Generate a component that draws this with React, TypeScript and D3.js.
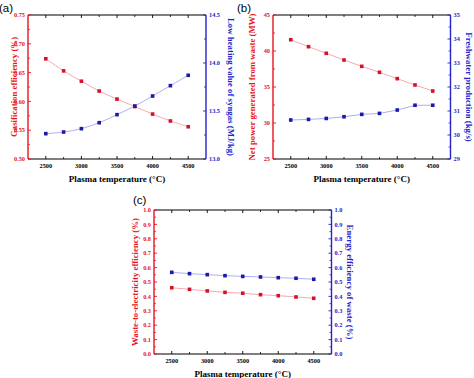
import React from "react";
import * as d3 from "d3";

const temps = [2500, 2750, 3000, 3250, 3500, 3750, 4000, 4250, 4500];
const xTicks = [2500, 3000, 3500, 4000, 4500];

const gasEff = [0.674, 0.653, 0.635, 0.618, 0.604, 0.591, 0.578, 0.566, 0.556];
const lhv = [13.264, 13.281, 13.316, 13.378, 13.462, 13.552, 13.656, 13.764, 13.872];

const netPower = [41.57, 40.6, 39.68, 38.75, 37.87, 37.04, 36.16, 35.28, 34.44];
const freshwater = [30.625, 30.65, 30.69, 30.76, 30.86, 30.9, 31.04, 31.24, 31.24];

const wteEff = [0.46, 0.449, 0.438, 0.428, 0.422, 0.412, 0.405, 0.396, 0.387];
const energyEff = [0.567, 0.558, 0.551, 0.544, 0.539, 0.535, 0.53, 0.526, 0.519];

const RED = "#e8141f";
const BLUE = "#2323c8";
const RED_M = "#d8102c";
const BLUE_M = "#1a1aa6";
const RED_L = "#f3a0a0";
const BLUE_L = "#a5a5f0";
const SERIF = "'Liberation Serif', 'Times New Roman', serif";

type PanelProps = {
  label: string;
  labelX: number;
  labelY: number;
  x0: number;
  x1: number;
  y0: number;
  y1: number;
  left: number[];
  right: number[];
  lDom: [number, number];
  rDom: [number, number];
  lStep: number;
  rStep: number;
  lFmt: string;
  rFmt: string;
  lTitle: string;
  rTitle: string;
  lTitleX: number;
  rTitleX: number;
  curve: boolean;
};

function Panel(p: PanelProps) {
  const x = d3.scaleLinear().domain([2250, 4750]).range([p.x0, p.x1]);
  const yl = d3.scaleLinear().domain(p.lDom).range([p.y1, p.y0]);
  const yr = d3.scaleLinear().domain(p.rDom).range([p.y1, p.y0]);
  const lMajor = d3.range(p.lDom[0], p.lDom[1] + p.lStep / 2, p.lStep);
  const rMajor = d3.range(p.rDom[0], p.rDom[1] + p.rStep / 2, p.rStep);
  const lMinor = d3.range(p.lDom[0] + p.lStep / 2, p.lDom[1], p.lStep);
  const rMinor = d3.range(p.rDom[0] + p.rStep / 2, p.rDom[1], p.rStep);
  const xMinor = [2750, 3250, 3750, 4250];
  const lf = d3.format(p.lFmt);
  const rf = d3.format(p.rFmt);
  const curve = p.curve ? d3.curveCatmullRom : d3.curveLinear;
  const lLine = d3
    .line<number>()
    .x((_, i) => x(temps[i]))
    .y((d) => yl(d))
    .curve(curve);
  const rLine = d3
    .line<number>()
    .x((_, i) => x(temps[i]))
    .y((d) => yr(d))
    .curve(curve);
  const midY = (p.y0 + p.y1) / 2;
  const midX = (p.x0 + p.x1) / 2;
  const T = 3;
  const t = 2;
  return (
    <g>
      <text x={p.labelX} y={p.labelY} fontFamily="'Liberation Sans', Arial, sans-serif" fontSize={11.5}>
        {p.label}
      </text>
      {/* top axis */}
      <line x1={p.x0} x2={p.x1} y1={p.y0} y2={p.y0} stroke="#000" strokeWidth={1.2} />
      {xTicks.map((v) => (
        <line key={"tt" + v} x1={x(v)} x2={x(v)} y1={p.y0} y2={p.y0 + T} stroke="#000" strokeWidth={0.9} />
      ))}
      {xMinor.map((v) => (
        <line key={"tm" + v} x1={x(v)} x2={x(v)} y1={p.y0} y2={p.y0 + t} stroke="#000" strokeWidth={0.8} />
      ))}
      {/* bottom axis */}
      <line x1={p.x0} x2={p.x1} y1={p.y1} y2={p.y1} stroke="#000" strokeWidth={1.2} />
      {xTicks.map((v) => (
        <g key={"bt" + v}>
          <line x1={x(v)} x2={x(v)} y1={p.y1} y2={p.y1 - T} stroke="#000" strokeWidth={0.9} />
          <text x={x(v)} y={p.y1 + 9} textAnchor="middle" fontFamily={SERIF} fontWeight="bold" fontSize={6.3} fill="#000">
            {v}
          </text>
        </g>
      ))}
      {xMinor.map((v) => (
        <line key={"bm" + v} x1={x(v)} x2={x(v)} y1={p.y1} y2={p.y1 - t} stroke="#000" strokeWidth={0.8} />
      ))}
      <text x={midX} y={p.y1 + 23} textAnchor="middle" fontFamily={SERIF} fontWeight="bold" fontSize={9} fill="#000">
        Plasma temperature (°C)
      </text>
      {/* left axis */}
      <line x1={p.x0} x2={p.x0} y1={p.y0} y2={p.y1} stroke={RED} strokeWidth={1.4} />
      {lMajor.map((v) => (
        <g key={"lt" + v}>
          <line x1={p.x0} x2={p.x0 + T} y1={yl(v)} y2={yl(v)} stroke={RED} strokeWidth={0.9} />
          <text x={p.x0 - 3} y={yl(v) + 2.1} textAnchor="end" fontFamily={SERIF} fontWeight="bold" fontSize={6.3} fill={RED}>
            {lf(v)}
          </text>
        </g>
      ))}
      {lMinor.map((v) => (
        <line key={"lm" + v} x1={p.x0} x2={p.x0 + t} y1={yl(v)} y2={yl(v)} stroke={RED} strokeWidth={0.8} />
      ))}
      <text
        transform={`translate(${p.lTitleX},${midY}) rotate(-90)`}
        textAnchor="middle"
        fontFamily={SERIF}
        fontWeight="bold"
        fontSize={8.8}
        fill={RED}
      >
        {p.lTitle}
      </text>
      {/* right axis */}
      <line x1={p.x1} x2={p.x1} y1={p.y0} y2={p.y1} stroke={BLUE} strokeWidth={1.4} />
      {rMajor.map((v) => (
        <g key={"rt" + v}>
          <line x1={p.x1} x2={p.x1 - T} y1={yr(v)} y2={yr(v)} stroke={BLUE} strokeWidth={0.9} />
          <text x={p.x1 + 3} y={yr(v) + 2.1} textAnchor="start" fontFamily={SERIF} fontWeight="bold" fontSize={6.3} fill={BLUE}>
            {rf(v)}
          </text>
        </g>
      ))}
      {rMinor.map((v) => (
        <line key={"rm" + v} x1={p.x1} x2={p.x1 - t} y1={yr(v)} y2={yr(v)} stroke={BLUE} strokeWidth={0.8} />
      ))}
      <text
        transform={`translate(${p.rTitleX},${midY}) rotate(90)`}
        textAnchor="middle"
        fontFamily={SERIF}
        fontWeight="bold"
        fontSize={8.8}
        fill={BLUE}
      >
        {p.rTitle}
      </text>
      {/* series */}
      <path d={lLine(p.left) || ""} fill="none" stroke={RED_L} strokeWidth={0.9} />
      <path d={rLine(p.right) || ""} fill="none" stroke={BLUE_L} strokeWidth={0.9} />
      {p.left.map((v, i) => (
        <rect key={"lp" + i} x={x(temps[i]) - 1.8} y={yl(v) - 1.8} width={3.6} height={3.6} fill={RED_M} />
      ))}
      {p.right.map((v, i) => (
        <rect key={"rp" + i} x={x(temps[i]) - 1.8} y={yr(v) - 1.8} width={3.6} height={3.6} fill={BLUE_M} />
      ))}
    </g>
  );
}

export default function App() {
  return (
    <svg width={474} height={378} style={{ position: "absolute", left: 0, top: 0, background: "#fff" }}>
      <rect width={474} height={378} fill="#fff" />
      <Panel
        label="(a)"
        labelX={-1}
        labelY={12}
        x0={28}
        x1={206}
        y0={15}
        y1={159}
        left={gasEff}
        right={lhv}
        lDom={[0.5, 0.75]}
        rDom={[13.0, 14.5]}
        lStep={0.05}
        rStep={0.5}
        lFmt=".2f"
        rFmt=".1f"
        lTitle="Gasification efficiency (%)"
        rTitle="Low heating value of syngas (MJ/kg)"
        lTitleX={17}
        rTitleX={228}
        curve={true}
      />
      <Panel
        label="(b)"
        labelX={237}
        labelY={12}
        x0={273}
        x1={450.5}
        y0={15}
        y1={159}
        left={netPower}
        right={freshwater}
        lDom={[25, 45]}
        rDom={[29, 35]}
        lStep={5}
        rStep={1}
        lFmt="d"
        rFmt="d"
        lTitle="Net power generated from waste (MW)"
        rTitle="Freshwater production (kg/s)"
        lTitleX={255}
        rTitleX={466}
        curve={false}
      />
      <Panel
        label="(c)"
        labelX={133}
        labelY={204}
        x0={154}
        x1={331.5}
        y0={210}
        y1={354}
        left={wteEff}
        right={energyEff}
        lDom={[0, 1]}
        rDom={[0, 1]}
        lStep={0.1}
        rStep={0.1}
        lFmt=".1f"
        rFmt=".1f"
        lTitle="Waste-to-electricity efficiency (%)"
        rTitle="Energy efficiency of waste (%)"
        lTitleX={138}
        rTitleX={347}
        curve={false}
      />
    </svg>
  );
}
